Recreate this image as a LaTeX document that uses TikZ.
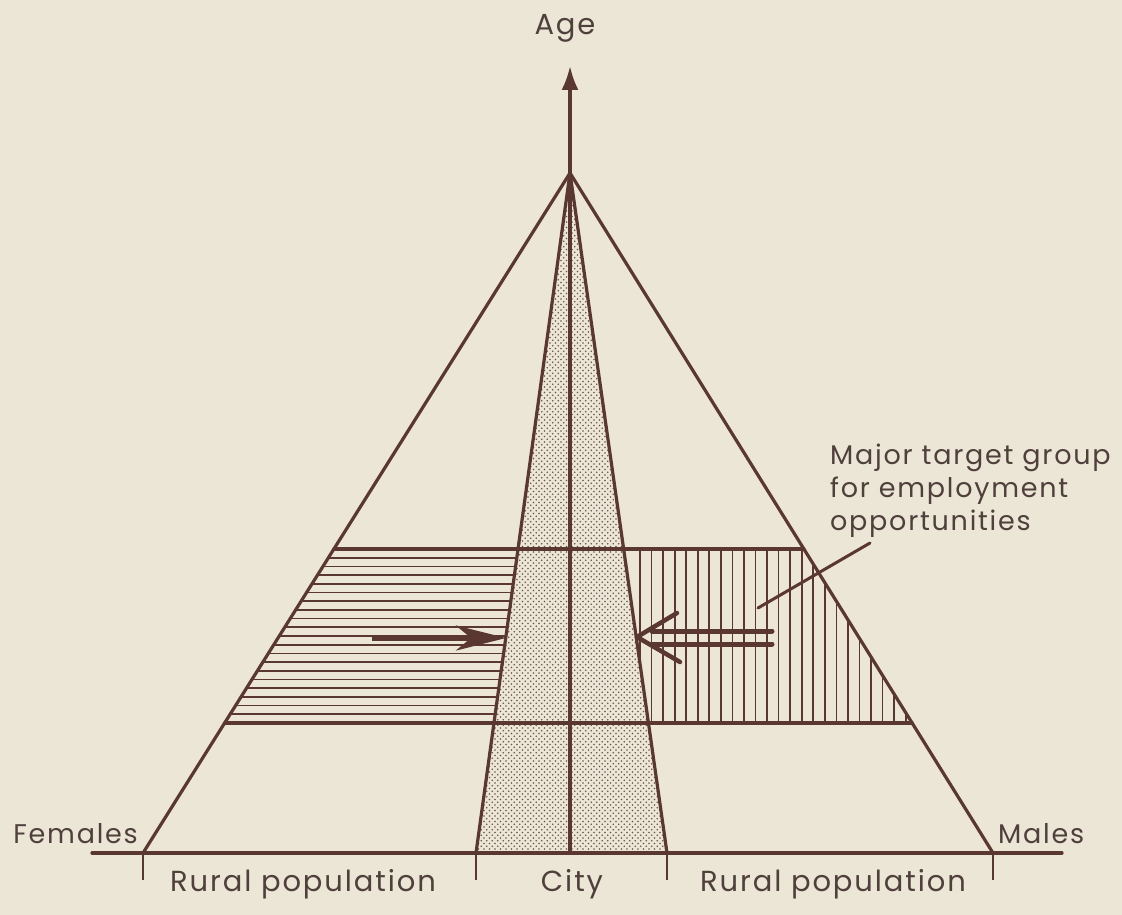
\documentclass[tikz,border=0pt]{standalone}
\usepackage{fontspec}
\setmainfont{Poppins}[LetterSpace=6.5]
\usetikzlibrary{patterns.meta,arrows.meta,calc}
\definecolor{bg}{RGB}{236,230,215}
\definecolor{ink}{RGB}{90,55,48}
\definecolor{txt}{RGB}{80,64,60}
\definecolor{dotc}{RGB}{105,85,80}
\tikzset{
  mainline/.style={draw=ink,line width=3.2pt,line cap=round,line join=round},
  hatchline/.style={draw=ink,line width=1.7pt},
  lbl/.style={text=txt,inner sep=0pt,font=\fontsize{29}{33}\selectfont},
  smalllbl/.style={text=txt,inner sep=0pt,font=\fontsize{27}{33}\selectfont},
}
\begin{document}
\begin{tikzpicture}[x=1pt,y=-1pt]
\fill[bg] (0,0) rectangle (1122,915);
\useasboundingbox (0,0) rectangle (1122,915);
% key points
\coordinate (apex) at (570,173);
\coordinate (BL) at (143,853);
\coordinate (BR) at (993,853);
\coordinate (CL) at (476,853);
\coordinate (CR) at (667,853);
\coordinate (AXB) at (570,853);
\coordinate (top) at (570,66);
\coordinate (LS) at (92,853);
\coordinate (RS) at (1062,853);
% band corners
\coordinate (TL) at ($(apex)!0.5529!(BL)$);
\coordinate (TR) at ($(apex)!0.5529!(BR)$);
\coordinate (TCL) at ($(apex)!0.5529!(CL)$);
\coordinate (TCR) at ($(apex)!0.5529!(CR)$);
\coordinate (BBL) at ($(apex)!0.8088!(BL)$);
\coordinate (BBR) at ($(apex)!0.8088!(BR)$);
\coordinate (BCL) at ($(apex)!0.8088!(CL)$);
\coordinate (BCR) at ($(apex)!0.8088!(CR)$);
% city stipple
\fill[pattern={Dots[distance=5.5pt,radius=0.9pt]},pattern color=dotc] (apex) -- (CL) -- (CR) -- cycle;
\fill[pattern={Dots[distance=5.5pt,radius=0.9pt,xshift=2.75pt,yshift=2.75pt]},pattern color=dotc] (apex) -- (CL) -- (CR) -- cycle;
% left hatching (horizontal)
\begin{scope}
\clip (TL) -- (TCL) -- (BCL) -- (BBL) -- cycle;
\foreach \k in {1,...,19} \draw[hatchline] (200,549+8.7*\k) -- (560,549+8.7*\k);
\end{scope}
% right hatching (vertical)
\begin{scope}
\clip (TCR) -- (TR) -- (BBR) -- (BCR) -- cycle;
\foreach \k in {0,...,23} \draw[hatchline] (640+11.55*\k,540) -- (640+11.55*\k,730);
\end{scope}
% main structure
\draw[mainline] (BL) -- (apex) -- (BR);
\draw[mainline] (CL) -- (apex) -- (CR);
\draw[mainline] (apex) -- (AXB);
\draw[mainline] (TL) -- (TR);
\draw[mainline] (BBL) -- (BBR);
\draw[mainline] (LS) -- (RS);
\draw[mainline,-{Latex[length=24pt,width=17pt]}] (apex) -- (top);
% ticks
\foreach \n/\x in {t1/143,t2/476,t3/667,t4/993}{
  \coordinate (\n a) at (\x,853);
  \coordinate (\n b) at (\x,880);
  \draw[draw=ink,line width=2.2pt] (\n a) -- (\n b);
}
% left arrow
\coordinate (la1) at (372,638);
\coordinate (la2) at (506,638);
\draw[draw=ink,fill=ink,line width=5pt,-{Stealth[length=50pt,width=25pt,inset=15pt]}] (la1) -- (la2);
% right double arrow
\coordinate (rs1a) at (772,631);
\coordinate (rs1b) at (652,631);
\coordinate (rs2a) at (772,644);
\coordinate (rs2b) at (652,644);
\coordinate (rtip) at (637,637);
\coordinate (rb1) at (677,613);
\coordinate (rb2) at (680,662);
\draw[draw=ink,line width=5pt,line cap=round] (rs1a) -- (rs1b);
\draw[draw=ink,line width=5pt,line cap=round] (rs2a) -- (rs2b);
\draw[draw=ink,line width=4.5pt,line cap=round,line join=round] (rb1) -- (rtip) -- (rb2);
% labels
\node[lbl,anchor=base] (age) at (565,35) {Age};
\node[smalllbl,anchor=base east] (fem) at (138,843) {Females};
\node[smalllbl,anchor=base west] (mal) at (998,843) {Males};
\node[lbl,anchor=base] (rur1) at (303,891) {Rural population};
\node[lbl,anchor=base] (city) at (572,891) {City};
\node[lbl,anchor=base] (rur2) at (833,891) {Rural population};
\node[smalllbl,anchor=north west,align=left] (target) at (830,444) {Major target group\\for employment\\opportunities};
% pointer
\coordinate (p1) at (758,608);
\coordinate (p2) at (870,543);
\draw[draw=ink,line width=3pt,line cap=round] (p1) -- (p2);
\end{tikzpicture}
\end{document}
